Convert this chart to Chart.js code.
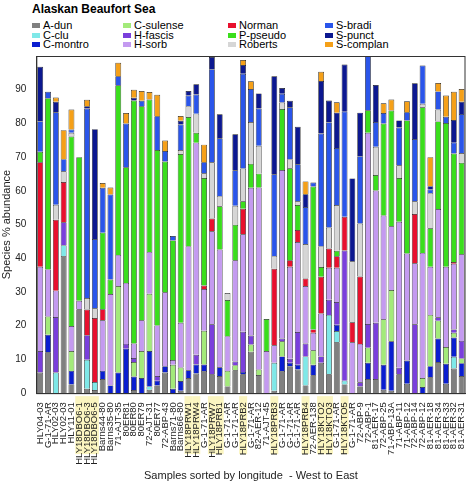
<!DOCTYPE html>
<html>
<head>
<meta charset="utf-8">
<script src="https://cdn.jsdelivr.net/npm/chart.js@4"></script>
<style>
body { margin: 0; width: 474px; height: 487px; background: #fff; font-family: "Liberation Sans", Arial, sans-serif; position: relative; overflow: hidden; }
#title { position: absolute; left: 32px; top: 2px; font-weight: bold; font-size: 12px; }
#legend { position: absolute; left: 32px; top: 21px; font-size: 11px; line-height: 9.5px; }
#legend span.it { position: absolute; white-space: nowrap; }
#legend i { display: inline-block; width: 8px; height: 5px; margin-right: 3px; vertical-align: 1px; }
#wrap { position: absolute; left: 0; top: 48px; width: 474px; height: 439px; }
</style>
</head>
<body>
<div id="title">Alaskan Beaufort Sea</div>
<div id="legend"></div>
<div id="wrap"><canvas id="chartCanvas"></canvas></div>
<script>
// sample names, west to east
var samples = ["HLY04-03", "G-1-71-AR", "HLY02-03", "HLY02-03", "HLY11-01", "HLY18DBO6-1", "HLY18DBO6-3", "HLY18DBO6-5",
    "Barns44-80", "Barns35-80", "71-AJT-35", "80ER81", "80ER80", "80ER79", "72-AJT-31", "80ER77", "72-ABP-43",
    "Barns71-80", "Barns66-80", "HLY18PRW1", "HLY18PRW4", "G-1-71-AR", "HLY18PRW7", "HLY18PRB1", "G-1-71-AR",
    "G-1-71-AR", "HLY18PRB2", "G-1-71-AR", "82-AER-12", "71-AJT-45", "HLY18PRB3", "G-1-71-AR",
    "G-1-71-AR", "G-1-71-AR", "HLY18PRB4", "72-AER-138", "HLY18KTO2", "HLY18KTO3", "G-1-71-AR", "HLY18KTO5",
    "G-1-71-AR", "72-ABP-9", "72-ABP-1", "81-AER-17", "72-ABP-25", "71-ABP-13A", "71-ABP-11", "71-ABP-12",
    "72-ABP-14", "72-ABP-12", "81-AER-18", "81-AER-34", "81-AER-33", "81-AER-32", "81-AER-31"];

var yTicks = [0, 10, 20, 30, 40, 50, 60, 70, 80, 90];

// % abundance per species
var aDun = [6.1,12.1,0,40.7,2.6,24.9,1.3,0.9,4.2,0, 0,0,0.9,0,1,2.3,6.1,0,0.7,4.5, 5.8,6.6,5.6,5.1,2,6.8,5.6,12.3,5.4,0, 0.7,6.6,8,7,2.3,5.3,9,5.6,15.1,2.6, 0,2,4.2,4.2,1,0.7,5.6,2.8,0,0, 4.7,9.2,2.8,7.3,5.1];
var cClu = [0,0,6.1,3.2,0,0,8.6,2.4,0,0, 0,0,0,0,1,0,0,0,0,0, 0,0,0,0,0,0,0,0,0,0, 8.3,0,0,0,8.6,0,0,17.6,3.3,1.1, 0,0,0,0,0,0,0,0,0,0, 0,0,0,3.5,0];
var cMontro = [0,5.2,0,0,4,0,0,0,2.4,2.3, 6.1,13.2,4,4.5,10.5,1.4,1.9,1.3,2.9,2.3, 2.7,1.9,0,2.6,0,0,0.7,0,0,0, 0,4.3,1,1.4,0,3.1,0,0,1.9,0, 0,0,4.8,0,7.4,14.7,0,6.9,0,1.8, 3.3,7,5.9,5.7,3.8];
var cSulense = [0,5.4,0,0,5.9,0,0,0,0,0, 25.7,0,4.3,8,17,0,0,7.1,4,0, 0,10,0,0,4.6,1.5,0,2.1,1.6,0, 0,4.5,0,0,0,4.3,0,0,0,0, 0,0,4.5,0,13.5,15.2,0,0,0,2.7, 15.2,5.3,5,1.4,1.4];
var hFascis = [6.4,0,16.5,6.8,0,0,7.3,0,0,0, 0,1.4,1.2,0,0,1.4,0,0,0,0, 2.9,0,14.8,0,0,1.1,11.9,2.7,0,0, 0,0.8,1.2,9.7,3.8,0,1.9,4.5,6.7,38.6, 0,1.2,7,16.7,0,0,1.9,0,20.4,0, 0,1,0,1,5.2];
var hSorb = [25,14,7.8,0,7.4,2.5,0,0,15,27.1, 9.2,18.1,4.3,9.1,12.4,15,21.9,1.4,13.3,36.8, 62.9,12.4,27.6,34.9,10.3,30,28.9,43.8,54,12.5, 5.2,50,27.3,26.7,17.1,5.2,12.7,9.5,10.2,0, 15.1,11.4,56.7,39.2,30.8,18.9,43.3,31.7,18.1,37.1, 14.3,32.1,23.8,19.5,25.7];
var norman = [31,0,21,11.9,0,0,7.6,19,3.3,0, 0,0,0,0,0,0,0,0,0,0, 0,1,3.8,0,0,0,7.6,0,0,0, 22.7,0,1.9,3.6,2.2,1,10.9,5.7,3.4,10, 5.9,20,0,0,0,0,0,0,14.6,0, 0,0,0,0.5,0];
var pPseudo = [3.1,50.8,0,0,56.2,42.6,0,0,22.7,4.3, 50.3,34.3,72.1,63.5,45.2,52,38.8,35.5,50,38.3, 2.9,31.9,0,12.8,10.7,10.5,2.2,7.1,4.1,9.5, 0,18.1,27.3,7.4,0,42.4,2.9,0,1.6,0, 0,0,6.7,4.6,27.3,34.3,13,39.5,0,43.2, 11.4,26,42.6,32.2,27.1];
var roberts = [0,0,4.5,3.2,1.1,0,3.4,2.9,0,0, 0,0,0,0,0,0,0,0,1.2,3.3, 5.7,1.4,16.7,3.1,2.1,5.7,9.7,12.4,8.3,0, 3.8,1.9,2.7,1.1,10.2,0,6.2,6.2,13.6,0, 18.1,15.7,0,8.4,0,0,3.8,0,3.8,1, 10.5,3.5,0,0,2.9];
var sBradi = [9,1.9,27.4,3.6,1,0,56.2,20.5,13.3,25.2, 2.7,13,0,1.6,0,10,3.1,1.3,7.6,3.1, 5.7,3.3,27.6,17.1,0,10.5,28.1,9.8,11,0, 24.2,2.6,15.4,11,11,1.2,33.4,31.2,16.9,31.2, 0,20,16,7.3,3.1,0,11.2,2.4,18.5,11.4, 1,5.4,1.9,3.2,11.6];
var sPunct = [16.2,0,3.1,0,0,0,0.7,32.6,0,0, 0,0,0.8,0,0,0,0,0,1.1,1.3, 3,0,3.6,7.1,0,10.7,2.6,0,4.5,0, 29.1,1.7,1.9,11.1,3.8,0,15.6,6.5,10.5,14, 24.6,12.9,0,11,0,0,2.1,0,16.5,0, 1,0,0,6.7,3.6];
var sComplan = [0,0,1.3,8.6,5.9,0,1.9,0,1.4,2.1, 4,3.1,2.4,2.9,2.2,6.4,3.1,0,1.4,0, 0,5.2,0,0,0,0,1.5,2.3,0,0, 0,0,0,0,3.8,0,2.7,0,3.1,0, 0,0,0,0,2.9,3.3,0,3.3,0,0, 8.6,2.5,6.3,8.4,3.8];

var species = [
    { name: 'A-dun', data: aDun, color: '#808080' },
    { name: 'C-clu', data: cClu, color: '#7fe8e8' },
    { name: 'C-montro', data: cMontro, color: '#0a1ed0' },
    { name: 'C-sulense', data: cSulense, color: '#a3ea7a' },
    { name: 'H-fascis', data: hFascis, color: '#7a3fdc' },
    { name: 'H-sorb', data: hSorb, color: '#c49af0' },
    { name: 'Norman', data: norman, color: '#e8102e' },
    { name: 'P-pseudo', data: pPseudo, color: '#3ade1c' },
    { name: 'Roberts', data: roberts, color: '#d6d6d6' },
    { name: 'S-bradi', data: sBradi, color: '#2a55ea' },
    { name: 'S-punct', data: sPunct, color: '#0c1890' },
    { name: 'S-complan', data: sComplan, color: '#f5a018' }
];

// legend, 4 columns x 3 rows
var legendCols = [0, 91, 196, 293];
var legend = document.getElementById('legend');
species.forEach(function (sp, i) {
    var el = document.createElement('span');
    el.className = 'it';
    el.style.left = legendCols[Math.floor(i / 3)] + 'px';
    el.style.top = (i % 3) * 9.5 + 'px';
    el.innerHTML = '<i style="background:' + sp.color + '"></i>' + sp.name;
    legend.appendChild(el);
});

// yellow marks behind HLY18 labels + frame
var extras = {
    id: 'extras',
    beforeDraw: function (chart) {
        var ctx = chart.ctx, x = chart.scales.x, a = chart.chartArea;
        ctx.save();
        ctx.fillStyle = '#fbf5c0';
        samples.forEach(function (s, i) {
            if (s.indexOf('HLY18') === 0) {
                var px = x.getPixelForTick(i);
                ctx.fillRect(px - 4, a.bottom + 3, 8, 58);
            }
        });
        ctx.restore();
    },
    afterDraw: function (chart) {
        var ctx = chart.ctx, a = chart.chartArea;
        ctx.save();
        ctx.strokeStyle = '#333';
        ctx.lineWidth = 1;
        ctx.strokeRect(a.left + 0.5, a.top + 0.5, a.right - a.left - 1, a.bottom - a.top);
        ctx.restore();
    }
};

Chart.defaults.font.family = '"Liberation Sans", Arial, sans-serif';
Chart.defaults.color = '#222';

window.onload = function () {
    var ctx = document.getElementById('chartCanvas').getContext('2d');
    window.myBar = new Chart(ctx, {
        type: 'bar',
        data: {
            labels: samples,
            datasets: species.map(function (sp) {
                return {
                    label: sp.name,
                    data: sp.data,
                    backgroundColor: sp.color,
                    borderColor: '#1a1a1a',
                    borderWidth: 0.7,
                    barPercentage: 0.75,
                    categoryPercentage: 1
                };
            })
        },
        options: {
            responsive: true,
            maintainAspectRatio: false,
            animation: false,
            layout: { padding: { top: 6, right: 0, left: 0, bottom: 4 } },
            plugins: { legend: { display: false }, tooltip: { enabled: false } },
            scales: {
                x: {
                    stacked: true,
                    grid: { display: false },
                    border: { color: '#333' },
                    ticks: { autoSkip: false, maxRotation: 90, minRotation: 90, font: { size: 9.5 }, padding: 1 },
                    title: { display: true, text: 'Samples sorted by longitude  - West to East', font: { size: 11 }, padding: { top: 4, bottom: 0 } }
                },
                y: {
                    stacked: true,
                    min: 0,
                    max: 100,
                    afterBuildTicks: function (axis) {
                        axis.ticks = yTicks.map(function (v) { return { value: v }; });
                    },
                    grid: { display: false, drawTicks: true },
                    border: { color: '#333' },
                    ticks: { font: { size: 10 }, padding: 2 },
                    title: { display: true, text: 'Species % abundance', font: { size: 11 }, padding: 0 }
                }
            }
        },
        plugins: [extras]
    });
};
</script>
</body>
</html>
